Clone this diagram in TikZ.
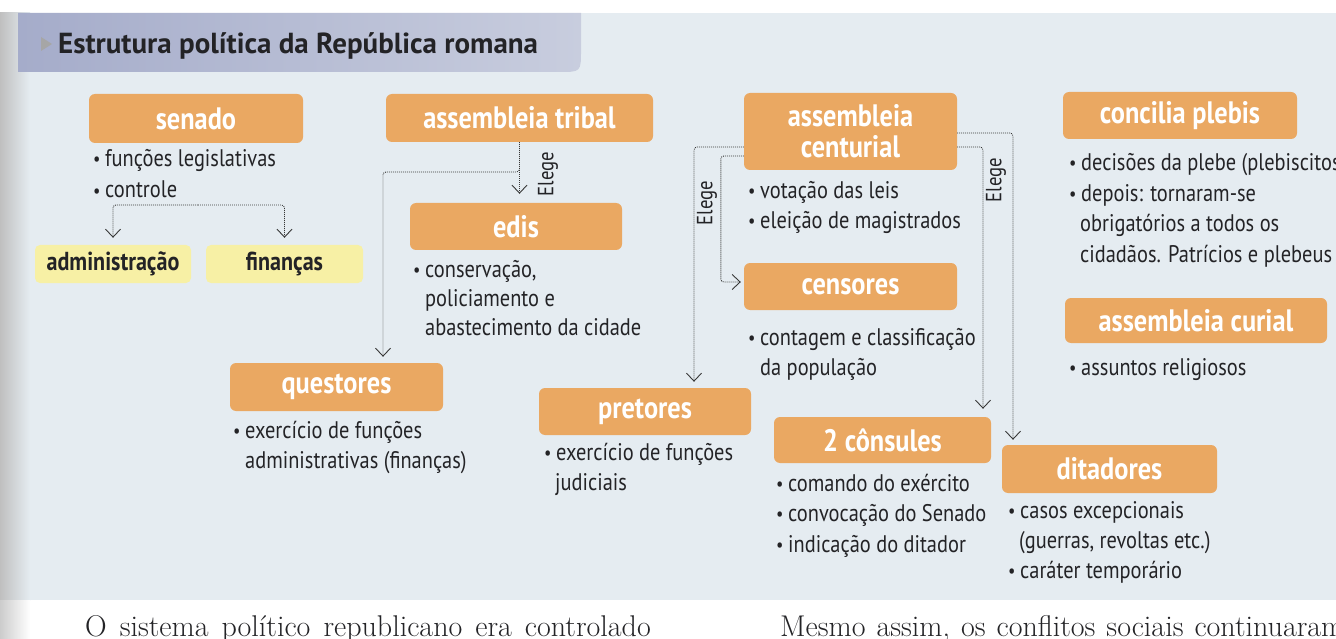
\documentclass[tikz,border=0pt]{standalone}
\usepackage{fontspec}
\newfontfamily\dinfont[FakeStretch=0.85]{PT Sans}
\newfontfamily\titlefont{PT Sans}
\usetikzlibrary{arrows.meta,calc}
\definecolor{boxor}{RGB}{234,168,98}
\definecolor{boxye}{RGB}{247,240,165}
\definecolor{panel}{RGB}{229,236,241}
\definecolor{bandL}{RGB}{165,172,202}
\definecolor{bandR}{RGB}{200,205,222}
\definecolor{ink}{RGB}{35,35,38}
\definecolor{lineink}{RGB}{55,55,55}
\newcommand{\mybul}{\makebox[12pt][l]{\raisebox{1pt}{\scalebox{0.8}{\textbullet}}}}
\begin{document}
\begin{tikzpicture}[x=1pt,y=-1pt,
  obox/.style={fill=boxor, rounded corners=6pt, text=white, font=\dinfont\bfseries\fontsize{31}{31}\selectfont, align=center, inner sep=0pt},
  ybox/.style={fill=boxye, rounded corners=5pt, text=ink, font=\dinfont\bfseries\fontsize{26}{28}\selectfont, inner sep=0pt},
  bodyline/.style={anchor=base west, inner sep=0pt, text=ink, font=\dinfont\fontsize{24}{31}\selectfont},
  conn/.style={draw=lineink, line width=0.9pt, dash pattern=on 0.9pt off 1.1pt, rounded corners=3pt, -{Straight Barb[length=8pt,width=15pt,line width=0.9pt]}},
  elegelabel/.style={rotate=90, inner sep=0pt, text=ink, font=\dinfont\fontsize{22}{24}\selectfont},
  pagetext/.style={anchor=base west, inner sep=0pt, text=ink, font=\fontsize{30}{30}\selectfont}
]
\clip (0,0) rectangle (1336,639);
% background
\fill[white] (0,0) rectangle (1336,639);
\fill[panel] (0,13) rectangle (1336,600);
\shade[left color=gray!50, right color=panel] (0,13) rectangle (30,600);
\shade[left color=gray!40, right color=white] (0,600) rectangle (30,639);
\shade[left color=bandL, right color=bandR] (18,13) -- (581,13) -- (581,50) .. controls (581,72) .. (559,72) -- (18,72) -- cycle;
\fill[gray!70] (41,37) -- (52,44) -- (41,51) -- cycle;
\node[anchor=base west, inner sep=0pt, text=ink, font=\titlefont\bfseries\fontsize{29}{30}\selectfont] (title) at (58,54) {Estrutura política da República romana};

% boxes
\node[obox, minimum width=214pt, minimum height=49pt] (senado) at (196,118.5) {senado};
\node[obox, minimum width=267pt, minimum height=48pt] (tribal) at (519.5,118) {assembleia tribal};
\node[obox, minimum width=213pt, minimum height=77pt] (centurial) at (850.5,131.5) {assembleia\\centurial};
\node[obox, minimum width=234pt, minimum height=47pt] (concilia) at (1180,115.5) {concilia plebis};
\node[obox, minimum width=212pt, minimum height=47pt] (edis) at (516,226.5) {edis};
\node[obox, minimum width=213pt, minimum height=47pt] (censores) at (850.5,286.5) {censores};
\node[obox, minimum width=262pt, minimum height=45pt] (curial) at (1196,320.5) {assembleia curial};
\node[obox, minimum width=213pt, minimum height=48pt] (questores) at (336.5,387) {questores};
\node[obox, minimum width=212pt, minimum height=47pt] (pretores) at (645,411.5) {pretores};
\node[obox, minimum width=217pt, minimum height=46pt] (consules) at (882.5,440) {2 cônsules};
\node[obox, minimum width=215pt, minimum height=48pt] (ditadores) at (1109.5,469) {ditadores};
\node[ybox, minimum width=156pt, minimum height=38pt] (adm) at (113,264) {administração};
\node[ybox, minimum width=157pt, minimum height=38pt] (fin) at (284.5,264) {finanças};

% body texts
\node[bodyline] (s1) at (93,167) {\mybul funções legislativas};
\node[bodyline] (s2) at (93,198) {\mybul controle};
\node[bodyline] (e1) at (413,277) {\mybul conservação,};
\node[bodyline] (e2) at (425,306) {policiamento e};
\node[bodyline] (e3) at (425,335) {abastecimento da cidade};
\node[bodyline] (c1) at (748,199) {\mybul votação das leis};
\node[bodyline] (c2) at (748,229) {\mybul eleição de magistrados};
\node[bodyline] (cs1) at (748,345) {\mybul contagem e classificação};
\node[bodyline] (cs2) at (760,375) {da população};
\node[bodyline] (p1) at (1069,171) {\mybul decisões da plebe (plebiscitos};
\node[bodyline] (p2) at (1069,202) {\mybul depois: tornaram-se};
\node[bodyline] (p3) at (1080,232) {obrigatórios a todos os};
\node[bodyline] (p4) at (1080,262) {cidadãos. Patrícios e plebeus};
\node[bodyline] (cu1) at (1069,375) {\mybul assuntos religiosos};
\node[bodyline] (q1) at (233,438) {\mybul exercício de funções};
\node[bodyline] (q2) at (245,468) {administrativas (finanças)};
\node[bodyline] (pr1) at (544,460) {\mybul exercício de funções};
\node[bodyline] (pr2) at (555,490) {judiciais};
\node[bodyline] (k1) at (776,491) {\mybul comando do exército};
\node[bodyline] (k2) at (776,521) {\mybul convocação do Senado};
\node[bodyline] (k3) at (776,552) {\mybul indicação do ditador};
\node[bodyline] (d1) at (1008,518) {\mybul casos excepcionais};
\node[bodyline] (d2) at (1019,548) {(guerras, revoltas etc.)};
\node[bodyline] (d3) at (1008,578) {\mybul caráter temporário};

% connectors
\coordinate (ctl) at (198,205);
\draw[conn, shorten >=7pt] (ctl) -| (adm.north);
\draw[conn, shorten >=7pt] (ctl) -| (fin.north);

\coordinate (tq) at (519.5,172);
\draw[conn, shorten >=9pt] (tribal.south) -- (tribal.south |- edis.north);
\draw[conn, shorten >=6pt] (tribal.south) -- (tq) -| ([xshift=46.5pt]questores.north);
\node[elegelabel] (el1) at (548,174) {Elege};

\draw[conn, shorten >=6pt] ([yshift=-15.5pt]centurial.west) -| ([xshift=49pt]pretores.north);
\draw[conn, shorten >=3pt] ([yshift=-24.5pt]centurial.west) -- ++(-23,0) |- ([yshift=4.5pt]censores.west);
\node[elegelabel] (el2) at (707,203) {Elege};

\draw[conn, shorten >=8pt] ([yshift=-15.5pt]centurial.east) -| ([xshift=100.5pt]consules.north);
\draw[conn, shorten >=5pt] ([yshift=-1.5pt]centurial.east) -| ([xshift=-96.5pt]ditadores.north);
\node[elegelabel] (el3) at (996,180) {Elege};

% bottom page text
\node[pagetext] (bt1) at (85,636) {\spaceskip=13pt O sistema político republicano era controlado};
\node[pagetext] (bt2) at (780,636) {\spaceskip=11pt Mesmo assim, os conflitos sociais continuaram};
\end{tikzpicture}
\end{document}
